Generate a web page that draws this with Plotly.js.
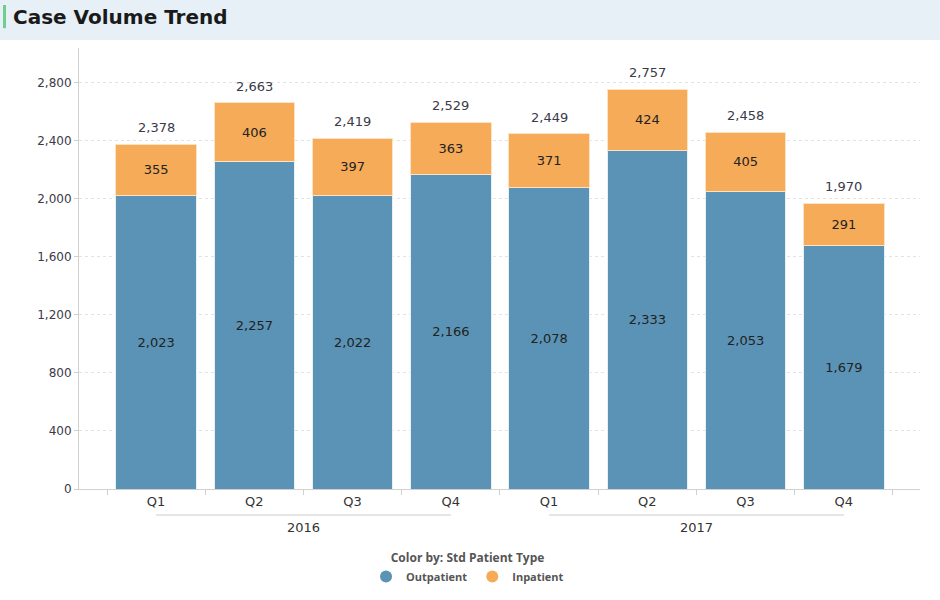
<!DOCTYPE html>
<html>
<head>
<meta charset="utf-8">
<script src="https://cdn.plot.ly/plotly-3.0.1.min.js"></script>
<style>html,body{margin:0;padding:0;background:#fff;}#chart{width:940px;height:600px;}</style>
</head>
<body>
<div id="chart"></div>
<script>
const years = ["2016","2016","2016","2016","2017","2017","2017","2017"];
const quarters = ["Q1","Q2","Q3","Q4","Q1","Q2","Q3","Q4"];
const outpatient = [2023, 2257, 2022, 2166, 2078, 2333, 2053, 1679];
const inpatient = [355, 406, 397, 363, 371, 424, 405, 291];
const yTicks = [0, 400, 800, 1200, 1600, 2000, 2400, 2800];

const cats = years.map((y, i) => y + " " + quarters[i]);
const totals = outpatient.map((v, i) => v + inpatient[i]);
const fmt = v => v.toLocaleString("en-US");

const blue = "#5a93b5";
const orange = "#f5ab58";
const labelFont = {family: "DejaVu Sans", size: 13, color: "#222"};

const traces = [
  {
    type: "bar", x: cats, y: outpatient, name: "Outpatient", showlegend: false,
    marker: {color: blue, line: {color: "#e8f0f5", width: 1}},
    text: outpatient.map(fmt), textposition: "inside", insidetextanchor: "middle", textangle: 0,
    textfont: labelFont, hoverinfo: "x+y"
  },
  {
    type: "bar", x: cats, y: inpatient, name: "Inpatient", showlegend: false,
    marker: {color: orange, line: {color: "#fbe3c4", width: 1}},
    text: inpatient.map(fmt), textposition: "inside", insidetextanchor: "middle", textangle: 0,
    textfont: labelFont, hoverinfo: "x+y"
  },
  {
    type: "scatter", mode: "markers", x: [null], y: [null], name: "Outpatient",
    marker: {color: blue, size: 12, symbol: "circle"}
  },
  {
    type: "scatter", mode: "markers", x: [null], y: [null], name: "Inpatient",
    marker: {color: orange, size: 12, symbol: "circle"}
  }
];

const yearNames = [...new Set(years)];
const shapes = [
  {type: "rect", xref: "paper", yref: "paper", x0: -0.1, x1: 1.03, y0: 1.018, y1: 1.12,
   fillcolor: "#e6f0f6", line: {width: 0}, layer: "below"},
  {type: "rect", xref: "paper", yref: "paper", x0: -0.0904, x1: -0.0868, y0: 1.045, y1: 1.0975,
   fillcolor: "#6fcf8f", line: {width: 0}, layer: "below"}
];
const annotations = [];
yearNames.forEach(yr => {
  const idx = years.map((y, i) => y === yr ? i : -1).filter(i => i >= 0);
  const first = idx[0], last = idx[idx.length - 1];
  shapes.push({type: "line", xref: "x", yref: "paper", x0: first, x1: last, y0: -0.059, y1: -0.059,
    line: {color: "#dcdcdc", width: 1.5}});
  annotations.push({xref: "x", yref: "paper", x: (first + last) / 2, y: -0.087, yanchor: "middle",
    text: yr, showarrow: false, font: {family: "DejaVu Sans", size: 13, color: "#333"}});
});
cats.forEach((c, i) => {
  annotations.push({xref: "x", yref: "y", x: c, y: totals[i], yanchor: "bottom", yshift: 7,
    text: fmt(totals[i]), showarrow: false,
    font: {family: "DejaVu Sans", size: 13, color: "#3a3a48"}});
});

const layout = {
  width: 940, height: 600, autosize: false,
  margin: {l: 79, r: 20, t: 48, b: 111, autoexpand: false},
  paper_bgcolor: "#ffffff", plot_bgcolor: "#ffffff",
  barmode: "stack", bargap: 0.18,
  title: {text: "Case Volume Trend", x: 0.0138, xanchor: "left", xref: "container",
    y: 0.972, yanchor: "middle", yref: "container",
    font: {family: "DejaVu Sans", size: 20, weight: "bold", color: "#1a1a1a"}},
  xaxis: {
    type: "category", tickvals: cats, ticktext: quarters, range: [-0.785, 7.775],
    tickson: "boundaries", ticks: "outside", ticklen: 5, tickcolor: "#cfcfcf",
    showline: true, linecolor: "#d0d0d0", linewidth: 1, showgrid: false,
    tickfont: {family: "DejaVu Sans", size: 13, color: "#333"}, fixedrange: true
  },
  yaxis: {
    range: [0, 3040], tickvals: yTicks, ticktext: yTicks.map(fmt),
    ticks: "outside", ticklen: 4, tickcolor: "#cfcfcf",
    showline: true, linecolor: "#d0d0d0", linewidth: 1,
    showgrid: true, gridcolor: "#e3e3e3", griddash: "3px,3px", zeroline: false,
    tickfont: {family: "DejaVu Sans", size: 12, color: "#3a3a48"}, fixedrange: true
  },
  legend: {
    orientation: "h", traceorder: "normal", x: 0.462, xanchor: "center",
    y: -0.13, yanchor: "top",
    title: {text: "Color by: Std Patient Type", side: "top center",
      font: {family: "Open Sans", size: 12, weight: "bold", color: "#555"}},
    font: {family: "Open Sans", size: 11, weight: "bold", color: "#555"},
    itemsizing: "constant"
  },
  shapes: shapes,
  annotations: annotations,
  showlegend: true
};

Plotly.newPlot("chart", traces, layout, {displayModeBar: false, staticPlot: true});
</script>
</body>
</html>
